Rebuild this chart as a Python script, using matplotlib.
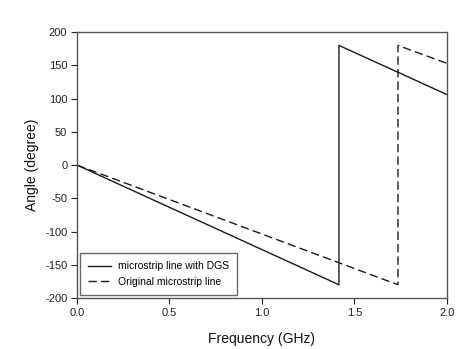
import numpy as np
import matplotlib.pyplot as plt

plt.rcParams['font.family'] = ['Liberation Sans', 'DejaVu Sans']
plt.rcParams['axes.unicode_minus'] = False

# phase response
freq_dgs = [0.0, 1.416, 1.416, 2.0]
angle_dgs = [0.0, -180.0, 180.0, 106.0]
freq_orig = [0.0, 1.735, 1.735, 2.0]
angle_orig = [0.0, -180.0, 180.0, 153.0]

fig = plt.figure(figsize=(4.74, 3.49), dpi=100)
ax = fig.add_axes([0.1624, 0.146, 0.7806, 0.762])

ax.plot(freq_dgs, angle_dgs, color='#1a1a1a', lw=1.0, label='microstrip line with DGS')
ax.plot(freq_orig, angle_orig, color='#1a1a1a', lw=1.0, dashes=(6, 3), label='Original microstrip line')

ax.set_xlim(0, 2.0)
ax.set_ylim(-200, 200)
ax.set_xticks([0.0, 0.5, 1.0, 1.5, 2.0])
ax.set_xticklabels(['0.0', '0.5', '1.0', '1.5', '2.0'])
ax.set_yticks(np.arange(-200, 201, 50))
ax.tick_params(direction='out', length=4, width=0.8, labelsize=8, colors='#222222', pad=3)
for s in ax.spines.values():
    s.set_color('#555555')
    s.set_linewidth(1.0)

ax.set_xlabel('Frequency (GHz)', fontsize=10, color='#111111', labelpad=10)
ax.set_ylabel('Angle (degree)', fontsize=10, color='#111111', labelpad=4)

leg = ax.legend(loc='lower left', fontsize=7.5, frameon=True, fancybox=False,
                edgecolor='#444444', handlelength=2.2, handletextpad=0.6,
                borderaxespad=0.3, borderpad=0.8, labelspacing=0.5)
leg.get_frame().set_linewidth(1.0)

fig.savefig('out.png', dpi=100)
